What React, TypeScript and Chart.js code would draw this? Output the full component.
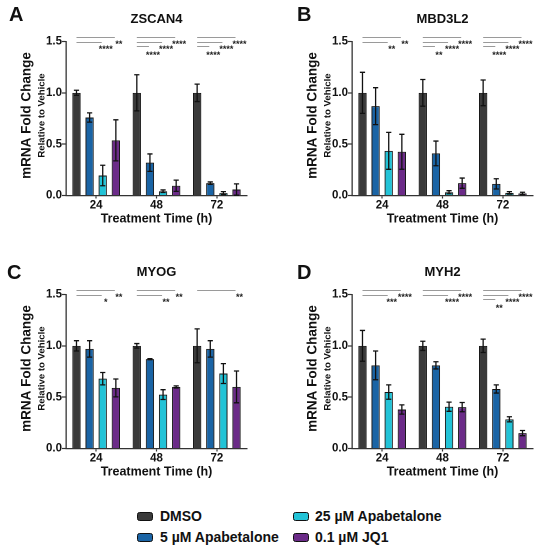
import React, { useEffect, useRef } from 'react';
import { Chart, registerables } from 'chart.js';

Chart.register(...registerables);

// ---------- data ----------
const categories = ['24', '48', '72'];
const seriesLabels = ['DMSO', '5 µM Apabetalone', '25 µM Apabetalone', '0.1 µM JQ1'];
const seriesColors = ['#3a3a3a', '#1a64a5', '#22c3d7', '#6b2b88'];
const yTickValues = [0, 0.5, 1.0, 1.5];

// values[series][time]
const zscan4Values = [[1.0, 1.0, 1.0], [0.76, 0.32, 0.12], [0.195, 0.042, 0.023], [0.537, 0.095, 0.058]];
const zscan4Errors = [[0.025, 0.176, 0.085], [0.045, 0.085, 0.012], [0.1, 0.012, 0.015], [0.2, 0.055, 0.055]];
const zscan4Sig = [
  [[3, '**'], [2, '****']],
  [[3, '****'], [2, '****'], [1, '****']],
  [[3, '****'], [2, '****'], [1, '****']],
];

const mbd3l2Values = [[1.0, 1.0, 1.0], [0.87, 0.41, 0.113], [0.435, 0.032, 0.026], [0.426, 0.12, 0.02]];
const mbd3l2Errors = [[0.2, 0.13, 0.125], [0.18, 0.12, 0.05], [0.18, 0.015, 0.012], [0.17, 0.05, 0.012]];
const mbd3l2Sig = [
  [[3, '**'], [2, '**']],
  [[3, '****'], [2, '****'], [1, '**']],
  [[3, '****'], [2, '****'], [1, '****']],
];

const myogValues = [[1.0, 1.0, 1.0], [0.97, 0.87, 0.97], [0.68, 0.525, 0.73], [0.59, 0.6, 0.6]];
const myogErrors = [[0.05, 0.022, 0.165], [0.08, 0.005, 0.08], [0.06, 0.048, 0.097], [0.087, 0.01, 0.155]];
const myogSig = [
  [[3, '**'], [2, '*']],
  [[3, '**'], [2, '**']],
  [[3, '**']],
];

const myh2Values = [[1.0, 1.0, 1.0], [0.81, 0.81, 0.58], [0.55, 0.407, 0.284], [0.38, 0.403, 0.15]];
const myh2Errors = [[0.15, 0.045, 0.065], [0.14, 0.035, 0.04], [0.07, 0.045, 0.025], [0.045, 0.045, 0.025]];
const myh2Sig = [
  [[3, '****'], [2, '***']],
  [[3, '****'], [2, '****']],
  [[3, '****'], [2, '****'], [1, '**']],
];

// ---------- layout / style ----------
const FONT = '"Liberation Sans", Arial, Helvetica, sans-serif';
const INK = '#111111';
const SIG_LEVELS = [1.54, 1.5, 1.46];
const SIG_TEXT_OFFSET = [9.6, 9.6, 11.4];
const CANVAS_W = 252;
const CANVAS_H = 232;

type PanelCfg = {
  letter: string;
  title: string;
  values: number[][];
  errors: number[][];
  sig: (number | string)[][][];
  left: number;
  top: number;
  letterX: number;
  letterY: number;
};

const panels: PanelCfg[] = [
  { letter: 'A', title: 'ZSCAN4', values: zscan4Values, errors: zscan4Errors, sig: zscan4Sig, left: 0, top: 0, letterX: 9, letterY: 21 },
  { letter: 'B', title: 'MBD3L2', values: mbd3l2Values, errors: mbd3l2Errors, sig: mbd3l2Sig, left: 286, top: 0, letterX: 11, letterY: 21 },
  { letter: 'C', title: 'MYOG', values: myogValues, errors: myogErrors, sig: myogSig, left: 0, top: 253, letterX: 7, letterY: 26 },
  { letter: 'D', title: 'MYH2', values: myh2Values, errors: myh2Errors, sig: myh2Sig, left: 286, top: 253, letterX: 11, letterY: 26 },
];

function makeDecorPlugin(cfg: PanelCfg) {
  return {
    id: 'panelDecor',
    afterDatasetsDraw(chart: any) {
      const ctx = chart.ctx;
      const ys = chart.scales.y;
      ctx.save();
      ctx.strokeStyle = INK;
      ctx.lineWidth = 1.3;
      chart.data.datasets.forEach((ds: any, di: number) => {
        const meta = chart.getDatasetMeta(di);
        meta.data.forEach((bar: any, j: number) => {
          const v = ds.data[j];
          const e = cfg.errors[di][j];
          const x = bar.x;
          const yTop = ys.getPixelForValue(v + e);
          const yBot = ys.getPixelForValue(Math.max(0, v - e));
          ctx.beginPath();
          ctx.moveTo(x, yTop);
          ctx.lineTo(x, yBot);
          ctx.moveTo(x - 2.6, yTop);
          ctx.lineTo(x + 2.6, yTop);
          ctx.moveTo(x - 2.6, yBot);
          ctx.lineTo(x + 2.6, yBot);
          ctx.stroke();
        });
      });
      ctx.restore();
    },
    afterDraw(chart: any) {
      const ctx = chart.ctx;
      const ys = chart.scales.y;
      const area = chart.chartArea;
      ctx.save();
      // significance brackets
      cfg.sig.forEach((list, j) => {
        const x0 = chart.getDatasetMeta(0).data[j].x;
        list.forEach((item, k) => {
          const t = item[0] as number;
          const label = item[1] as string;
          const yy = Math.round(ys.getPixelForValue(SIG_LEVELS[k])) + 0.5;
          const xt = chart.getDatasetMeta(t).data[j].x;
          ctx.strokeStyle = '#9a9a9a';
          ctx.lineWidth = 1;
          ctx.beginPath();
          ctx.moveTo(x0, yy);
          ctx.lineTo(xt - 1, yy);
          ctx.stroke();
          ctx.fillStyle = '#222';
          ctx.font = `bold 9px ${FONT}`;
          ctx.textAlign = 'center';
          ctx.textBaseline = 'alphabetic';
          ctx.fillText(label, xt + 3, yy + SIG_TEXT_OFFSET[k]);
        });
      });
      // gene title
      ctx.fillStyle = INK;
      ctx.font = `bold 13px ${FONT}`;
      ctx.textAlign = 'center';
      ctx.textBaseline = 'middle';
      ctx.fillText(cfg.title, (area.left + area.right) / 2, 19.5);
      // panel letter
      ctx.font = `bold 20px ${FONT}`;
      ctx.textAlign = 'left';
      ctx.textBaseline = 'alphabetic';
      ctx.fillText(cfg.letter, cfg.letterX, cfg.letterY);
      // y axis titles
      const cy = (area.top + area.bottom) / 2 - 3;
      ctx.save();
      ctx.translate(27, cy);
      ctx.rotate(-Math.PI / 2);
      ctx.textAlign = 'center';
      ctx.textBaseline = 'middle';
      ctx.font = `bold 13.5px ${FONT}`;
      ctx.fillText('mRNA Fold Change', 0, 0);
      ctx.restore();
      ctx.save();
      ctx.translate(42, cy);
      ctx.rotate(-Math.PI / 2);
      ctx.textAlign = 'center';
      ctx.textBaseline = 'middle';
      ctx.font = `bold 9.6px ${FONT}`;
      ctx.fillText('Relative to Vehicle', 0, 0);
      ctx.restore();
      ctx.restore();
    },
  };
}

function Panel({ cfg }: { cfg: PanelCfg }) {
  const ref = useRef<HTMLCanvasElement | null>(null);
  useEffect(() => {
    if (!ref.current) return;
    const chart = new Chart(ref.current, {
      type: 'bar',
      data: {
        labels: categories,
        datasets: cfg.values.map((vals, i) => ({
          label: seriesLabels[i],
          data: vals,
          backgroundColor: seriesColors[i],
          borderColor: INK,
          borderWidth: 1,
          categoryPercentage: 0.87,
          barPercentage: 0.63,
        })),
      },
      options: {
        animation: false,
        responsive: false,
        devicePixelRatio: 2,
        layout: { padding: { left: 0, right: 5, top: 41.5, bottom: 0 } },
        plugins: { legend: { display: false }, tooltip: { enabled: false } },
        scales: {
          x: {
            type: 'category',
            grid: { display: true, drawOnChartArea: false, drawTicks: true, tickLength: 3, offset: false, color: '#333', tickWidth: 1.2 },
            border: { display: true, color: '#333', width: 1.3 },
            ticks: { color: INK, font: { family: FONT, size: 11.5, weight: 'bold' }, padding: 0, maxRotation: 0 },
            title: {
              display: true,
              text: 'Treatment Time (h)',
              color: INK,
              font: { family: FONT, size: 12.5, weight: 'bold' },
              padding: { top: 0, bottom: 5.5 },
            },
            afterFit: (s: any) => {
              s.height = CANVAS_H - 195.5;
            },
          },
          y: {
            min: 0,
            max: 1.5,
            afterBuildTicks: (s: any) => {
              s.ticks = yTickValues.map((v) => ({ value: v }));
            },
            grid: { display: true, drawOnChartArea: false, drawTicks: true, tickLength: 4, color: '#333', tickWidth: 1.2 },
            border: { display: true, color: '#333', width: 1.3 },
            ticks: {
              color: INK,
              font: { family: FONT, size: 11.5, weight: 'bold' },
              padding: 0,
              callback: (v: any) => Number(v).toFixed(1),
            },
            afterFit: (s: any) => {
              s.width = 66;
            },
          },
        },
      },
      plugins: [makeDecorPlugin(cfg)],
    } as any);
    return () => chart.destroy();
  }, [cfg]);
  return (
    <div style={{ position: 'absolute', left: cfg.left, top: cfg.top, width: CANVAS_W, height: CANVAS_H }}>
      <canvas ref={ref} width={CANVAS_W} height={CANVAS_H} style={{ width: CANVAS_W, height: CANVAS_H, display: 'block' }} />
    </div>
  );
}

const legendSlots = [
  { box: 137, text: 160, y: 516 },
  { box: 137, text: 160, y: 537 },
  { box: 293, text: 315, y: 516 },
  { box: 293, text: 315, y: 537 },
];

function Legend() {
  return (
    <>
      {seriesLabels.map((label, i) => {
        const slot = legendSlots[i];
        return (
          <React.Fragment key={label}>
            <div
              style={{
                position: 'absolute',
                left: slot.box,
                top: slot.y - 4.5,
                width: 14,
                height: 7,
                background: seriesColors[i],
                border: '1.5px solid #111',
                borderRadius: 2.5,
              }}
            />
            <div
              style={{
                position: 'absolute',
                left: slot.text,
                top: slot.y - 8.5,
                height: 16,
                lineHeight: '16px',
                fontFamily: FONT,
                fontWeight: 'bold',
                fontSize: 14,
                color: INK,
                whiteSpace: 'nowrap',
              }}
            >
              {label}
            </div>
          </React.Fragment>
        );
      })}
    </>
  );
}

export default function App() {
  return (
    <div style={{ position: 'fixed', left: 0, top: 0, width: 538, height: 550, background: '#fff', overflow: 'hidden' }}>
      {panels.map((p) => (
        <Panel key={p.letter} cfg={p} />
      ))}
      <Legend />
    </div>
  );
}
